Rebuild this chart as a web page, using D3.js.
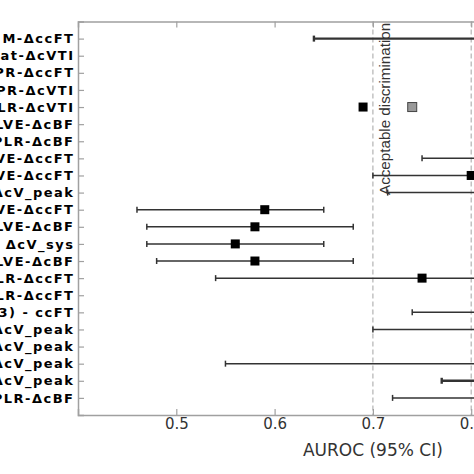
<!DOCTYPE html>
<html>
<head>
<meta charset="utf-8">
<script src="https://cdn.jsdelivr.net/npm/d3@7"></script>
<style>
  body { margin: 0; background: #fff; overflow: hidden; }
  svg { display: block; }
</style>
</head>
<body>
<div id="chart"></div>
<script>
// row labels, top to bottom (left part is cut off in the source)
const labels = [
  "M-ΔccFT", "Rat-ΔcVTI", "PR-ΔccFT", "PR-ΔcVTI", "LR-ΔcVTI", "LVE-ΔcBF",
  "PLR-ΔcBF", "LVE-ΔccFT", "LVE-ΔccFT", "ΔcV_peak", "LVE-ΔccFT", "LVE-ΔcBF",
  "ΔcV_sys", "LVE-ΔcBF", "PLR-ΔccFT", "PLR-ΔccFT", "(3) - ccFT", "ΔcV_peak",
  "ΔcV_peak", "ΔcV_peak", "ΔcV_peak", "PLR-ΔcBF"
];
const auroc = [0.83, 0.90, 0.92, 0.89, 0.69, 0.91, 0.90, 0.86, 0.80, 0.83, 0.59,
  0.58, 0.56, 0.58, 0.75, 0.93, 0.85, 0.84, 0.91, 0.82, 0.87, 0.84];
const ciLow = [0.64, 0.83, 0.85, 0.82, null, 0.84, 0.83, 0.75, 0.70, 0.715, 0.46,
  0.47, 0.47, 0.48, 0.54, 0.86, 0.74, 0.70, 0.84, 0.55, 0.77, 0.72];
const ciHigh = [0.98, 0.97, 0.99, 0.96, null, 0.98, 0.97, 0.97, 0.90, 0.95, 0.65,
  0.68, 0.65, 0.68, 0.96, 1.00, 0.96, 0.97, 0.98, 1.00, 0.97, 0.96];
// second (grey) estimate, only for one row
const aurocAlt = [null, null, null, null, 0.74, null, null, null, null, null, null,
  null, null, null, null, null, null, null, null, null, null, null];
const xTicks = [0.5, 0.6, 0.7, 0.8, 0.9];
const refLines = [0.7, 0.8];

const width = 474, height = 474;
const margin = { top: 21.5, left: 78, bottom: 59 };

const rows = labels.map((label, i) => ({
  i: i + 1, label, auc: auroc[i], lo: ciLow[i], hi: ciHigh[i], alt: aurocAlt[i]
}));

const x = d3.scaleLinear()
  .domain([0.4, 1.0])
  .range([margin.left, margin.left + 0.6 * 983]);

const y = d3.scaleLinear()
  .domain([0, labels.length + 1])
  .range([margin.top, height - margin.bottom]);

const svg = d3.select("#chart")
  .append("svg")
  .attr("width", width)
  .attr("height", height);

const x0 = x.range()[0], x1 = x.range()[1];
const y0 = y.range()[0], y1 = y.range()[1];

// reference lines
svg.append("g")
  .selectAll("line")
  .data(refLines)
  .join("line")
  .attr("x1", d => x(d)).attr("x2", d => x(d))
  .attr("y1", y0).attr("y2", y1)
  .attr("stroke", "#b3b3b3")
  .attr("stroke-width", 1.2)
  .attr("stroke-dasharray", "5,3");

svg.append("text")
  .attr("transform", `translate(${x(0.7) + 17.5},195) rotate(-90)`)
  .attr("font-family", "Liberation Sans, Arial, sans-serif")
  .attr("font-size", 15.2)
  .attr("fill", "#333")
  .text("Acceptable discrimination");

// frame with inward ticks
const axBottom = svg.append("g")
  .attr("transform", `translate(0,${y1})`)
  .call(d3.axisBottom(x).tickValues(xTicks).tickSize(-6).tickPadding(3).tickFormat(d3.format(".1f")));
const axTop = svg.append("g")
  .attr("transform", `translate(0,${y0})`)
  .call(d3.axisTop(x).tickValues(xTicks).tickSize(-6).tickFormat(""));
const axLeft = svg.append("g")
  .attr("transform", `translate(${x0},0)`)
  .call(d3.axisLeft(y).tickValues(rows.map(d => d.i)).tickSize(-6).tickPadding(3.5)
    .tickFormat(d => labels[d - 1]));
const axRight = svg.append("g")
  .attr("transform", `translate(${x1},0)`)
  .call(d3.axisRight(y).tickValues(rows.map(d => d.i)).tickSize(-6).tickFormat(""));

[axBottom, axTop, axLeft, axRight].forEach(g => {
  g.select(".domain").attr("stroke", "#a0a0a0").attr("stroke-width", 1.5);
  g.selectAll(".tick line").attr("stroke", "#a0a0a0").attr("stroke-width", 1.2);
});

axBottom.selectAll("text")
  .attr("font-family", "DejaVu Sans, Verdana, sans-serif")
  .attr("font-size", 15)
  .attr("fill", "#333");

axLeft.selectAll("text")
  .attr("font-family", "DejaVu Sans, Verdana, sans-serif")
  .attr("font-weight", "bold")
  .attr("font-size", 13)
  .attr("letter-spacing", 1.5)
  .attr("fill", "#000")
  .style("white-space", "pre");

svg.append("text")
  .attr("x", x(0.7))
  .attr("y", 456)
  .attr("text-anchor", "middle")
  .attr("font-family", "DejaVu Sans, Verdana, sans-serif")
  .attr("font-size", 17)
  .attr("fill", "#333")
  .text("AUROC (95% CI)");

// confidence intervals
const thick = new Set([1, 21]);
const ci = svg.append("g")
  .selectAll("g")
  .data(rows.filter(d => d.lo != null))
  .join("g")
  .attr("stroke", "#333")
  .attr("stroke-width", d => thick.has(d.i) ? 2.4 : 1.5);

ci.append("line")
  .attr("x1", d => x(d.lo)).attr("x2", d => x(d.hi))
  .attr("y1", d => y(d.i)).attr("y2", d => y(d.i));
ci.append("line")
  .attr("x1", d => x(d.lo)).attr("x2", d => x(d.lo))
  .attr("y1", d => y(d.i) - 3).attr("y2", d => y(d.i) + 3);
ci.append("line")
  .attr("x1", d => x(d.hi)).attr("x2", d => x(d.hi))
  .attr("y1", d => y(d.i) - 3).attr("y2", d => y(d.i) + 3);

// point estimates
const s = 9;
svg.append("g")
  .selectAll("rect")
  .data(rows)
  .join("rect")
  .attr("x", d => x(d.auc) - s / 2)
  .attr("y", d => y(d.i) - s / 2)
  .attr("width", s).attr("height", s)
  .attr("fill", "#000");

svg.append("g")
  .selectAll("rect")
  .data(rows.filter(d => d.alt != null))
  .join("rect")
  .attr("x", d => x(d.alt) - s / 2)
  .attr("y", d => y(d.i) - s / 2)
  .attr("width", s).attr("height", s)
  .attr("fill", "#999")
  .attr("stroke", "#444")
  .attr("stroke-width", 1);
</script>
</body>
</html>
